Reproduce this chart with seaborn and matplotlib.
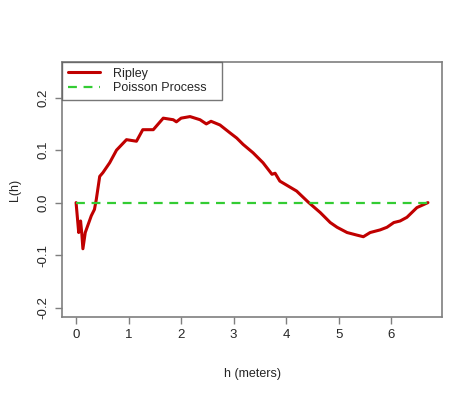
import numpy as np
import pandas as pd
import matplotlib
matplotlib.use("Agg")
import matplotlib.pyplot as plt
import seaborn as sns

h_vals = [0.0, 0.05, 0.086, 0.11, 0.13, 0.175, 0.29, 0.35, 0.385, 0.45, 0.51,
          0.64, 0.77, 0.96, 1.15, 1.27, 1.47, 1.66, 1.85, 1.91, 2.0, 2.17,
          2.36, 2.48, 2.57, 2.74, 2.93, 3.06, 3.18, 3.37, 3.56, 3.73, 3.79,
          3.88, 4.2, 4.42, 4.65, 4.84, 4.97, 5.16, 5.35, 5.47, 5.6, 5.79,
          5.92, 6.05, 6.17, 6.3, 6.49, 6.7]
L_vals = [0.0, -0.057, -0.035, -0.06, -0.088, -0.057, -0.025, -0.013, 0.006,
          0.05, 0.057, 0.076, 0.10, 0.12, 0.117, 0.139, 0.139, 0.161, 0.158,
          0.154, 0.161, 0.164, 0.158, 0.150, 0.155, 0.148, 0.133, 0.123,
          0.111, 0.095, 0.076, 0.054, 0.056, 0.041, 0.022, 0.001, -0.019,
          -0.038, -0.047, -0.057, -0.062, -0.065, -0.057, -0.052, -0.047,
          -0.038, -0.035, -0.028, -0.0095, 0.0]

df = pd.DataFrame({"h": h_vals, "L": L_vals})
poisson = pd.DataFrame({"h": [0.0, 6.7], "L": [0.0, 0.0]})

sns.set_style("white")
plt.rcParams['font.family'] = ['Liberation Sans', 'DejaVu Sans']

fig = plt.figure(figsize=(4.74, 3.95), dpi=100)
ax = fig.add_axes([0.1308, 0.1975, 0.8017, 0.6455])

sns.lineplot(data=df, x="h", y="L", ax=ax, color="#C00000", lw=2.2,
             label="Ripley", estimator=None, sort=False)
sns.lineplot(data=poisson, x="h", y="L", ax=ax, color="#33CC33", lw=1.6,
             linestyle=(0, (4, 3)), label="Poisson Process   ", estimator=None)

ax.set_xlim(-0.268, 6.968)
ax.set_ylim(-0.218, 0.268)
ax.set_xticks(range(0, 7))
ax.set_yticks([-0.2, -0.1, 0.0, 0.1, 0.2])
ax.set_yticklabels(["-0.2", "-0.1", "0.0", "0.1", "0.2"], rotation=90, va="center")

for s in ax.spines.values():
    s.set_color("#7f7f7f")
    s.set_linewidth(1.2)
ax.tick_params(axis="both", length=5, width=1, color="#7f7f7f",
               labelsize=9.5, pad=4, direction="out", bottom=True, left=True)

ax.set_xlabel("h (meters)", fontsize=9, labelpad=19)
ax.set_ylabel("L(h)", fontsize=9, labelpad=12)

leg = ax.legend(loc="upper left", bbox_to_anchor=(0, 1), borderaxespad=0,
                fontsize=9, frameon=True, fancybox=False, handlelength=2.6,
                labelspacing=0.2, borderpad=0.45, handletextpad=1.0)
leg.get_frame().set_edgecolor("#555555")
leg.get_frame().set_linewidth(1.0)

plt.savefig("out.png", dpi=100)
plt.close()
